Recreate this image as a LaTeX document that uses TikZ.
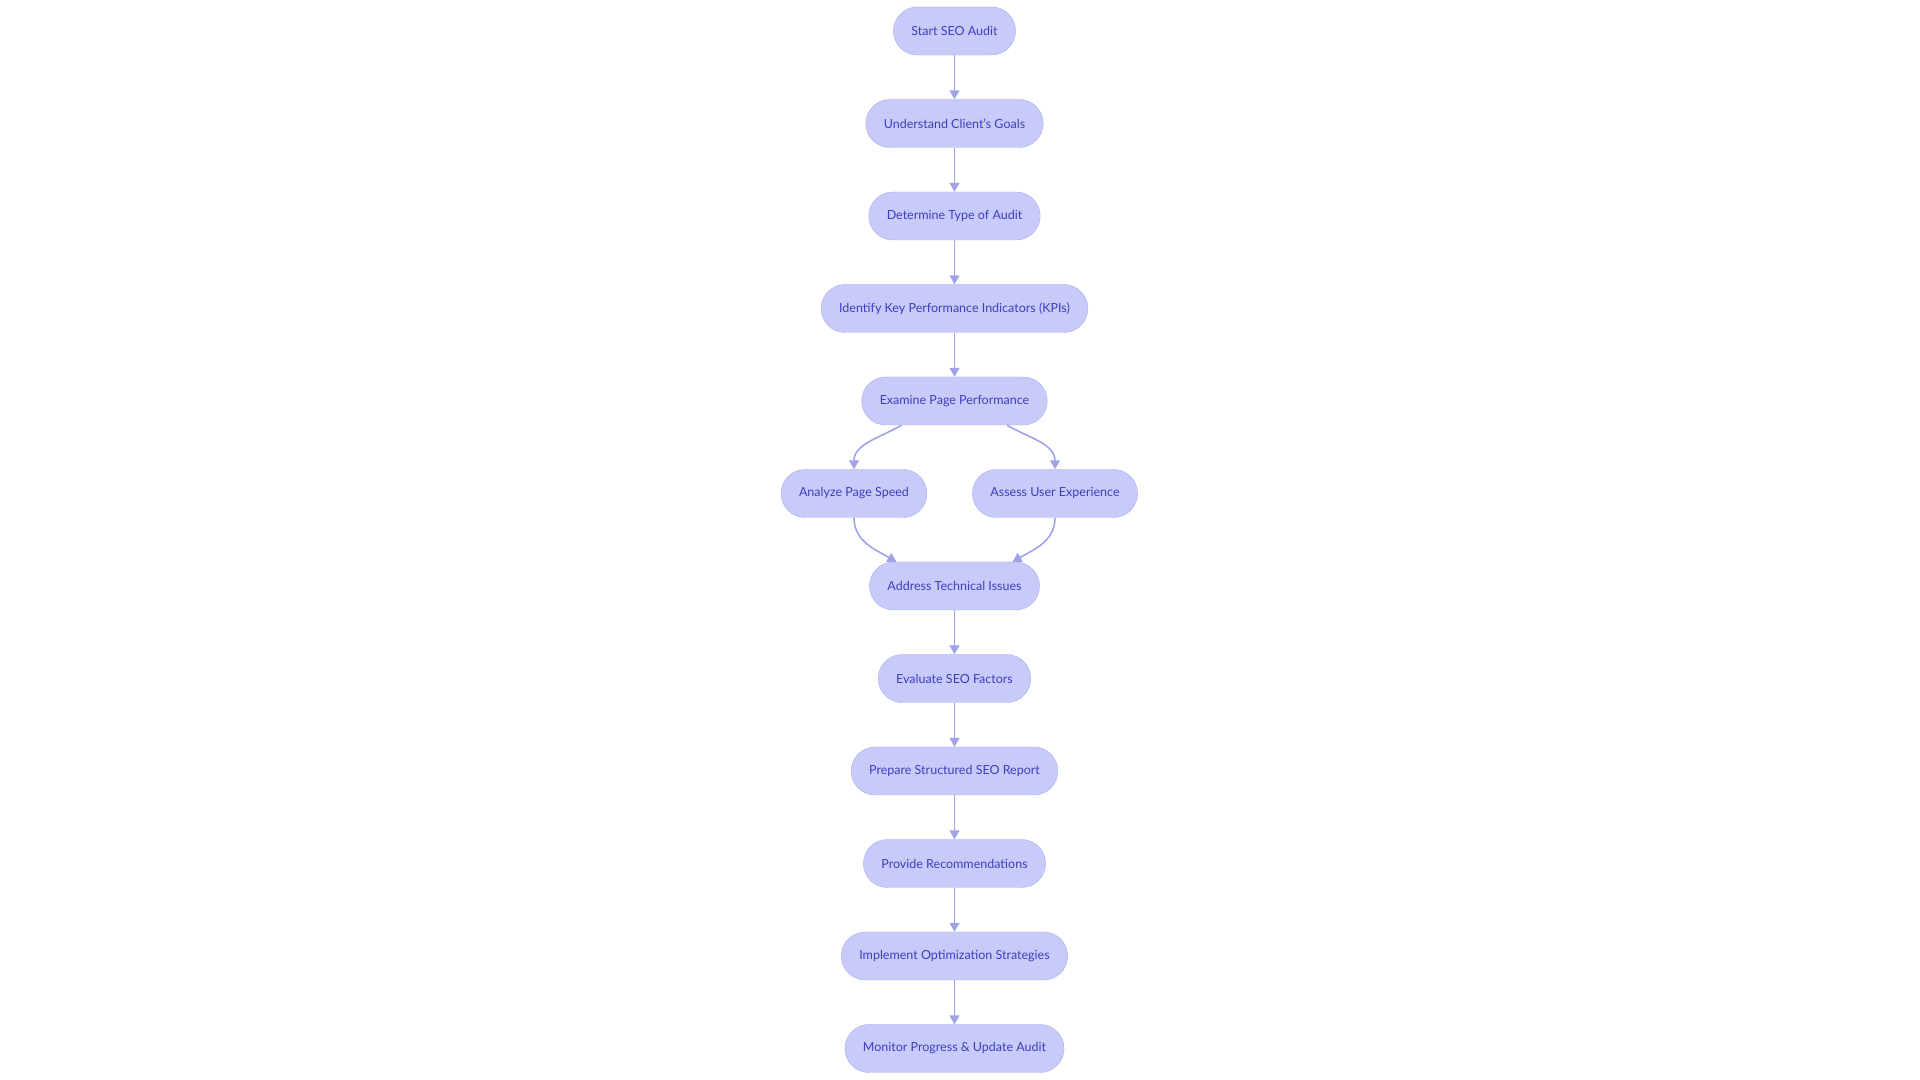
\documentclass[tikz,border=0pt]{standalone}
\usepackage{fontspec}
\setmainfont{Lato}
\usepackage{xcolor}
\usepackage{tikz}
\usetikzlibrary{positioning}
\usetikzlibrary{arrows.meta}

\definecolor{stepfill}{HTML}{C8CAFA}
\definecolor{stepline}{HTML}{A9ABEE}
\definecolor{steptext}{HTML}{3C3EBE}
\definecolor{flowline}{HTML}{A0A3E8}

\begin{document}
\begin{tikzpicture}[
            stage/.style={draw=stepline,fill=stepfill,rectangle, rounded corners=24bp,
            minimum height=48bp, inner xsep=18bp, text=steptext,
            font=\fontsize{12.5bp}{15bp}\selectfont, node distance=44.1bp},
                flow/.style={draw=flowline, line width=1.6bp,
            -{Triangle[width=10bp,length=9bp]}}]
            \node[stage] (start) {Start SEO Audit};
            \node[stage] (goals) [below=of start] {Understand Client's Goals};
            \node[stage] (audittype) [below=of goals] {Determine Type of Audit};
            \node[stage] (kpis) [below=of audittype] {Identify Key Performance Indicators (KPIs)};
            \node[stage] (examine) [below=of kpis] {Examine Page Performance};
            \node[stage] (speed) [below=of examine, xshift=-100.5bp] {Analyze Page Speed};
            \node[stage] (ux) [below=of examine, xshift=100.5bp] {Assess User Experience};
            \node[stage] (technical) [below=of speed, xshift=100.5bp] {Address Technical Issues};
            \node[stage] (factors) [below=of technical] {Evaluate SEO Factors};
            \node[stage] (report) [below=of factors] {Prepare Structured SEO Report};
            \node[stage] (advice) [below=of report] {Provide Recommendations};
            \node[stage] (implement) [below=of advice] {Implement Optimization Strategies};
            \node[stage] (monitor) [below=of implement] {Monitor Progress \& Update Audit};

            \useasboundingbox ([xshift=-954.5bp,yshift=31bp]start.center)
                rectangle ([xshift=965.5bp,yshift=-1049bp]start.center);

            \draw[flow] (start) -- (goals);
            \draw[flow] (goals) -- (audittype);
            \draw[flow] (audittype) -- (kpis);
            \draw[flow] (kpis) -- (examine);
            \draw[flow] (examine.south) ++(-53bp,0) to[out=-150,in=90] (speed.north);
            \draw[flow] (examine.south) ++(52.5bp,0) to[out=-30,in=90] (ux.north);
            \draw[flow] (speed.south) to[out=-90,in=150] ([xshift=-58bp]technical.north);
            \draw[flow] (ux.south) to[out=-90,in=30] ([xshift=58bp]technical.north);
            \draw[flow] (technical) -- (factors);
            \draw[flow] (factors) -- (report);
            \draw[flow] (report) -- (advice);
            \draw[flow] (advice) -- (implement);
            \draw[flow] (implement) -- (monitor);
        \end{tikzpicture}
\end{document}
